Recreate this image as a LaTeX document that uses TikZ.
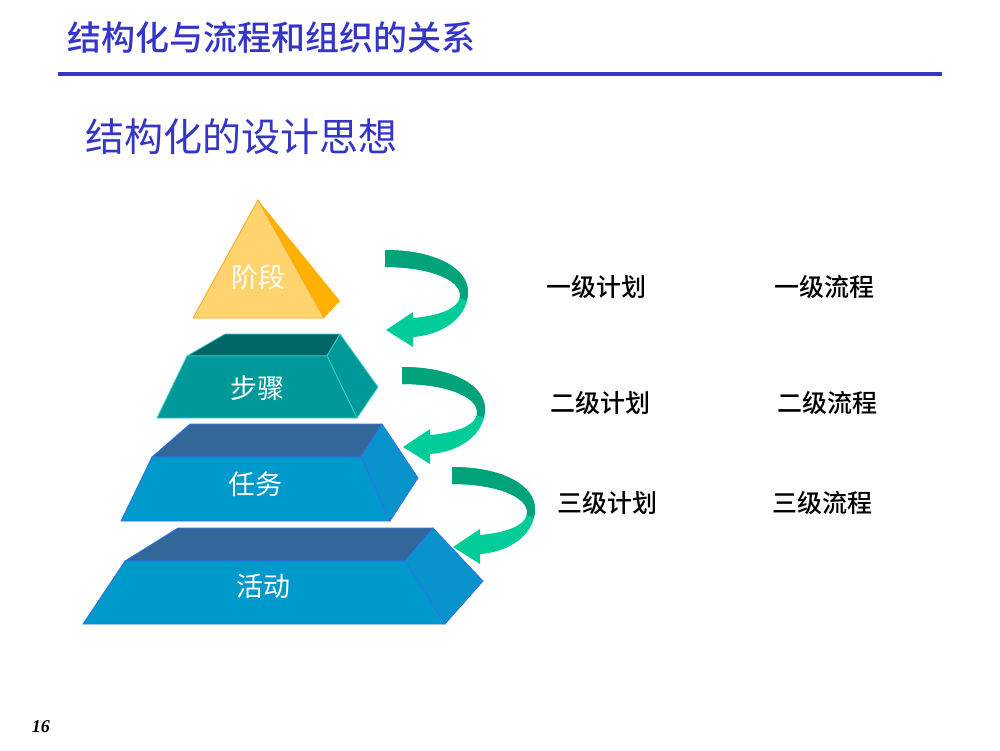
\documentclass[tikz,border=0pt]{standalone}
\usepackage{fontspec}
\usepackage{tikz}
\setmainfont{Liberation Serif}
\newfontfamily\cjk{Noto Sans CJK SC}
\newfontfamily\cjkmed{Noto Sans CJK SC Medium}
\definecolor{titleblue}{HTML}{3535C8}
\definecolor{orangefront}{HTML}{FFD46E}
\definecolor{orangeside}{HTML}{FFB000}
\definecolor{orangeline}{HTML}{FFA41C}
\definecolor{tealfront}{HTML}{009999}
\definecolor{tealtop}{HTML}{006666}
\definecolor{tealline}{HTML}{3CCCCC}
\definecolor{bluefront}{HTML}{0099CC}
\definecolor{blueside}{HTML}{0893CC}
\definecolor{bluetop}{HTML}{336699}
\definecolor{blueline}{HTML}{2F73E8}
\definecolor{arrowdark}{HTML}{00A37A}
\definecolor{arrowlight}{HTML}{00CC99}

\tikzset{
  layerlabel/.style={text=white, font=\cjk\fontsize{13.5}{15}\selectfont},
  sidelabel/.style={font=\cjkmed\fontsize{12.5}{15}\selectfont},
}

% curled ribbon arrow, origin at the top left of its tail
\newcommand{\curlpath}{(0,0) .. controls (50,0) and (83,18) .. (83,42)
  .. controls (83,68) and (57,85) .. (28,87) -- (28,97) -- (1,80) -- (28,62) -- (28,68)
  .. controls (50,66) and (75,60) .. (75,45) .. controls (75,30) and (45,17) .. (0,17) -- cycle}
\newcommand{\curlarrow}[1]{
  \begin{scope}[shift={#1}]
    \fill[arrowlight] \curlpath;
    \begin{scope}
      \clip (-5,-5) -- (100,-5) -- (100,58) -- (60,42) -- (-5,42) -- cycle;
      \fill[arrowdark] \curlpath;
    \end{scope}
  \end{scope}
}

\begin{document}
\begin{tikzpicture}[x=0.5pt,y=-0.5pt]
\useasboundingbox (0,0) rectangle (1000,750);

\node[anchor=west, inner sep=0, text=titleblue, font=\cjkmed\fontsize{17}{20}\selectfont] (title) at (67,38) {结构化与流程和组织的关系};
\draw[titleblue, line width=2pt] (58,74) -- (942,74);
\node[anchor=west, inner sep=0, text=titleblue, font=\cjk\fontsize{19.5}{22}\selectfont] (subtitle) at (85,137) {结构化的设计思想};

% stage
\fill[orangeside] (258,200) -- (340,301) -- (324,318) -- cycle;
\filldraw[fill=orangefront, draw=orangeline, line width=0.4pt] (258,200) -- (193,318) -- (324,318) -- cycle;
\node[layerlabel] (stage) at (258,277) {阶段};

% steps
\filldraw[fill=tealtop, draw=tealline, line width=0.4pt] (187,356) -- (225,334) -- (340,334) -- (327,356) -- cycle;
\filldraw[fill=tealfront, draw=tealline, line width=0.4pt] (327,356) -- (340,334) -- (378,387) -- (357,418) -- cycle;
\filldraw[fill=tealfront, draw=tealline, line width=0.4pt] (187,356) -- (327,356) -- (357,418) -- (157,418) -- cycle;
\node[layerlabel] (steps) at (257,388) {步骤};

% tasks
\filldraw[fill=bluetop, draw=blueline, line width=0.4pt] (152,457) -- (190,424) -- (382,424) -- (361,457) -- cycle;
\filldraw[fill=blueside, draw=blueline, line width=0.4pt] (361,457) -- (382,424) -- (418,478) -- (390,521) -- cycle;
\filldraw[fill=bluefront, draw=blueline, line width=0.4pt] (152,457) -- (361,457) -- (390,521) -- (121,521) -- cycle;
\node[layerlabel] (tasks) at (255,484) {任务};

% activities
\filldraw[fill=bluetop, draw=blueline, line width=0.4pt] (125,561) -- (178,528) -- (433,528) -- (405,561) -- cycle;
\filldraw[fill=blueside, draw=blueline, line width=0.4pt] (405,561) -- (433,528) -- (483,581) -- (445,624) -- cycle;
\filldraw[fill=bluefront, draw=blueline, line width=0.4pt] (125,561) -- (405,561) -- (445,624) -- (83,624) -- cycle;
\node[layerlabel] (activities) at (263,586) {活动};

\curlarrow{(385,250)}
\curlarrow{(402,367)}
\curlarrow{(452,467)}

\node[sidelabel] (plan1) at (596,287) {一级计划};
\node[sidelabel] (flow1) at (824,287) {一级流程};
\node[sidelabel] (plan2) at (600,403) {二级计划};
\node[sidelabel] (flow2) at (827,403) {二级流程};
\node[sidelabel] (plan3) at (607,503) {三级计划};
\node[sidelabel] (flow3) at (822,503) {三级流程};

\node[font=\bfseries\itshape\fontsize{9}{10}\selectfont] (pagenum) at (41,727) {16};
\end{tikzpicture}
\end{document}
